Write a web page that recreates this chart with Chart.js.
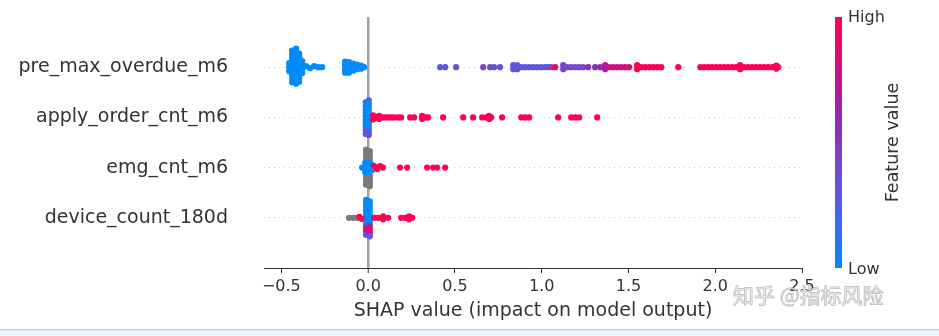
<!DOCTYPE html>
<html>
<head>
<meta charset="utf-8">
<script src="https://cdn.jsdelivr.net/npm/chart.js@4.4.1/dist/chart.umd.min.js"></script>
<style>
  html, body { margin: 0; padding: 0; background: #fff; }
  canvas { display: block; }
</style>
</head>
<body>
<canvas id="shap" width="939" height="336"></canvas>
<script>
// rows bottom -> top
const features = ['device_count_180d', 'emg_cnt_m6', 'apply_order_cnt_m6', 'pre_max_overdue_m6'];
const xTicks = [-0.5, 0, 0.5, 1, 1.5, 2, 2.5];

// each point: [shap value, swarm offset inside the row, feature value 0..1 (null = missing)]
const preMaxOverdue = [
  [-0.455, 0.08, 0], [-0.455, 0.00, 0], [-0.455, -0.08, 0],
  [-0.438, 0.33, 0], [-0.438, 0.26, 0], [-0.438, 0.19, 0], [-0.438, 0.12, 0], [-0.438, 0.05, 0],
  [-0.438, -0.02, 0], [-0.438, -0.09, 0], [-0.438, -0.16, 0], [-0.438, -0.23, 0], [-0.438, -0.30, 0],
  [-0.415, 0.37, 0], [-0.415, 0.30, 0], [-0.415, 0.23, 0], [-0.415, 0.16, 0], [-0.415, 0.09, 0], [-0.415, 0.02, 0],
  [-0.415, -0.05, 0], [-0.415, -0.12, 0], [-0.415, -0.19, 0], [-0.415, -0.26, 0], [-0.415, -0.33, 0],
  [-0.397, 0.27, 0], [-0.397, 0.20, 0], [-0.397, 0.13, 0], [-0.397, 0.06, 0], [-0.397, -0.01, 0],
  [-0.397, -0.08, 0], [-0.397, -0.15, 0], [-0.397, -0.22, 0], [-0.397, -0.29, 0],
  [-0.380, 0.12, 0], [-0.380, 0.04, 0], [-0.380, -0.04, 0], [-0.380, -0.12, 0],
  [-0.357, 0.02, 0], [-0.334, -0.02, 0], [-0.311, 0.02, 0], [-0.288, 0, 0], [-0.265, 0, 0],
  [-0.133, 0.11, 0], [-0.133, 0.04, 0], [-0.133, -0.04, 0], [-0.133, -0.11, 0],
  [-0.110, 0.10, 0], [-0.110, 0.03, 0], [-0.110, -0.04, 0], [-0.110, -0.11, 0],
  [-0.086, 0.07, 0], [-0.086, 0, 0], [-0.086, -0.07, 0],
  [-0.063, 0.05, 0], [-0.063, -0.04, 0], [-0.040, 0.03, 0], [-0.040, -0.03, 0], [-0.023, 0, 0],
  [0.415, 0, 0.3], [0.444, 0, 0.3], [0.507, 0, 0.3],
  [0.663, 0, 0.45], [0.703, 0, 0.4], [0.726, 0, 0.35], [0.760, 0, 0.3],
  [0.836, 0.04, 0.3], [0.836, -0.04, 0.3], [0.859, 0.04, 0.3], [0.859, -0.04, 0.3], [0.882, 0, 0.3],
  [0.905, 0, 0.28], [0.928, 0, 0.3], [0.951, 0, 0.32], [0.974, 0, 0.3], [0.997, 0, 0.28], [1.020, 0, 0.3], [1.037, 0, 0.3],
  [1.055, 0, 0.45], [1.078, 0, 1],
  [1.124, 0.04, 0.4], [1.124, -0.04, 0.42], [1.147, 0, 0.4], [1.170, 0, 0.42], [1.193, 0, 0.4], [1.216, 0, 0.42], [1.239, 0, 0.4],
  [1.268, 0, 0.55], [1.308, 0, 0.55], [1.337, 0, 0.6],
  [1.366, 0.04, 0.72], [1.366, -0.04, 0.7], [1.389, 0, 0.75], [1.412, 0, 0.78], [1.435, 0, 0.8],
  [1.458, 0, 0.8], [1.481, 0, 0.82], [1.504, 0, 0.85],
  [1.550, 0.04, 1], [1.550, -0.04, 1], [1.573, 0, 1], [1.597, 0, 1], [1.620, 0, 1], [1.643, 0, 1], [1.666, 0, 1], [1.689, 0, 1],
  [1.787, 0, 1],
  [1.914, 0, 1], [1.937, 0, 1], [1.960, 0, 1], [1.983, 0, 1], [2.006, 0, 1], [2.029, 0, 1], [2.052, 0, 1],
  [2.075, 0, 1], [2.098, 0, 1], [2.121, 0, 1], [2.144, 0.04, 1], [2.144, -0.04, 1], [2.167, 0, 1], [2.190, 0, 1],
  [2.213, 0, 1], [2.236, 0, 1], [2.259, 0, 1], [2.282, 0, 1], [2.305, 0, 1], [2.329, 0, 1],
  [2.352, 0.03, 1], [2.352, -0.03, 1], [2.363, 0, 1]
];

const applyOrderCnt = [
  [0.004, 0.34, 0.2], [0.004, 0.27, 0], [0.004, 0.20, 0], [0.004, 0.13, 0], [0.004, 0.06, 0], [0.004, -0.01, 0],
  [0.004, -0.08, 0], [0.004, -0.15, 0], [0.004, -0.22, 0], [0.004, -0.29, 0.3], [0.004, -0.35, 0.35],
  [-0.014, 0.30, 0.15], [-0.014, 0.23, 0], [-0.014, 0.16, 0], [-0.014, 0.09, 0], [-0.014, 0.02, 0],
  [-0.014, -0.05, 0], [-0.014, -0.12, 0], [-0.014, -0.19, 0], [-0.014, -0.26, 0.25], [-0.014, -0.33, 0.35],
  [0.029, 0.04, 1], [0.029, -0.04, 1], [0.046, 0, 1], [0.063, 0.03, 1], [0.063, -0.03, 1], [0.081, 0, 1],
  [0.098, 0, 1], [0.115, 0, 1], [0.133, 0, 1], [0.150, 0, 1], [0.173, 0, 1], [0.190, 0, 1],
  [0.242, 0, 1], [0.265, 0, 1], [0.311, 0.03, 1], [0.311, -0.03, 1], [0.334, 0, 1], [0.346, 0, 1],
  [0.432, 0, 1], [0.548, 0, 1], [0.605, 0, 1], [0.657, 0, 1], [0.680, 0, 1], [0.697, 0.03, 1], [0.697, -0.03, 1],
  [0.709, 0, 1], [0.772, 0, 1], [0.882, 0, 1], [0.905, 0, 1], [0.928, 0, 1], [1.095, 0, 1],
  [1.170, 0, 1], [1.193, 0, 1], [1.216, 0, 1], [1.320, 0, 1]
];

const emgCnt = [
  [-0.012, 0.36, null], [-0.012, 0.29, null], [-0.012, 0.22, null], [-0.012, 0.15, null], [-0.012, 0.08, null],
  [-0.012, 0.01, null], [-0.012, -0.06, null], [-0.012, -0.13, null], [-0.012, -0.20, null], [-0.012, -0.27, null], [-0.012, -0.34, null],
  [0.010, 0.33, null], [0.010, 0.26, null], [0.010, 0.19, null], [0.010, 0.12, null], [0.010, 0.05, null],
  [0.010, -0.02, null], [0.010, -0.09, null], [0.010, -0.16, null], [0.010, -0.23, null], [0.010, -0.30, null], [0.010, -0.37, null],
  [-0.035, 0, 0], [-0.017, 0.09, 0], [-0.017, 0, 0], [-0.017, -0.09, 0], [0.006, 0.09, 0], [0.006, 0, 0],
  [0.006, -0.09, 0], [0.023, 0.05, 0], [0.023, -0.05, 0],
  [0.035, 0.03, 1], [0.052, -0.03, 1], [0.069, 0.03, 1], [0.086, 0, 1], [0.184, 0, 1], [0.225, 0, 1],
  [0.340, 0, 1], [0.375, 0, 1], [0.398, 0, 1], [0.444, 0, 1]
];

const deviceCount = [
  [-0.110, 0, null], [-0.086, 0, null], [-0.063, 0, null],
  [-0.012, 0.36, 0], [-0.012, 0.29, 0], [-0.012, 0.22, 0], [-0.012, 0.15, 0], [-0.012, 0.08, 0], [-0.012, 0.01, 0],
  [-0.012, -0.06, 0], [-0.012, -0.13, 0.1], [-0.012, -0.20, 0.9], [-0.012, -0.27, 0.7], [-0.012, -0.34, 0.4],
  [0.010, 0.33, 0], [0.010, 0.26, 0], [0.010, 0.19, 0], [0.010, 0.12, 0], [0.010, 0.05, 0], [0.010, -0.02, 0],
  [0.010, -0.09, 0], [0.010, -0.16, 0.6], [0.010, -0.23, 1], [0.010, -0.30, 0.8], [0.010, -0.37, 0.3],
  [-0.050, 0.02, 1], [-0.038, -0.02, 1], [0.035, 0, 1], [0.058, 0, 1], [0.086, 0.03, 1], [0.086, -0.03, 1],
  [0.115, 0, 1], [0.190, 0, 1], [0.213, 0, 1], [0.236, 0.03, 1], [0.236, -0.03, 1], [0.254, 0, 1]
];

const rows = [deviceCount, emgCnt, applyOrderCnt, preMaxOverdue];

// blue -> purple -> red, like shap's red_blue map
const cmap = [
  [0, [0, 139, 251]], [0.2, [70, 102, 232]], [0.4, [118, 72, 206]], [0.55, [138, 48, 188]],
  [0.7, [178, 24, 158]], [0.85, [222, 10, 118]], [1, [255, 0, 82]]
];

function featureColor(v) {
  if (v === null) return '#7a7a7a';
  for (let i = 1; i < cmap.length; i++) {
    if (v <= cmap[i][0]) {
      const [t0, c0] = cmap[i - 1], [t1, c1] = cmap[i];
      const f = (v - t0) / (t1 - t0);
      const c = c0.map((a, k) => Math.round(a + (c1[k] - a) * f));
      return `rgb(${c[0]},${c[1]},${c[2]})`;
    }
  }
  return 'rgb(255,0,82)';
}

const FONT = 'DejaVu Sans';

const extras = {
  id: 'extras',
  afterDraw(chart) {
    const ctx = chart.ctx;
    const { top, bottom, right } = chart.chartArea;
    ctx.save();

    // colour bar
    const g = ctx.createLinearGradient(0, bottom, 0, top);
    cmap.forEach(([t, c]) => g.addColorStop(t, `rgb(${c[0]},${c[1]},${c[2]})`));
    ctx.fillStyle = g;
    ctx.fillRect(right + 33, top, 7, bottom - top);

    ctx.fillStyle = '#333';
    ctx.font = `16px "${FONT}"`;
    ctx.textAlign = 'left';
    ctx.textBaseline = 'middle';
    ctx.fillText('High', right + 46, top + 1);
    ctx.fillText('Low', right + 46, bottom + 2);

    ctx.save();
    ctx.translate(right + 91, (top + bottom) / 2);
    ctx.rotate(-Math.PI / 2);
    ctx.textAlign = 'center';
    ctx.font = `17.5px "${FONT}"`;
    ctx.fillText('Feature value', 0, 0);
    ctx.restore();

    // watermark
    ctx.font = '21px "Noto Sans CJK SC"';
    ctx.textAlign = 'left';
    ctx.lineWidth = 1;
    ctx.strokeStyle = 'rgba(140,140,140,0.5)';
    ctx.fillStyle = 'rgba(255,255,255,0.9)';
    ctx.fillText('知乎 @指标风险', 733, 295);
    ctx.strokeText('知乎 @指标风险', 733, 295);

    // page strip at the bottom
    ctx.fillStyle = '#edf6fa';
    ctx.fillRect(0, 329, chart.width, 7);
    ctx.fillStyle = '#b9d7e6';
    ctx.fillRect(0, 329, chart.width, 1.5);
    ctx.restore();
  }
};

new Chart(document.getElementById('shap'), {
  type: 'scatter',
  data: {
    datasets: rows.map((pts, row) => ({
      label: features[row],
      data: pts.map(p => ({ x: p[0], y: row + p[1] })),
      pointBackgroundColor: pts.map(p => featureColor(p[2])),
      pointRadius: 3.1,
      pointHoverRadius: 3.1,
      pointBorderWidth: 0
    }))
  },
  options: {
    responsive: false,
    animation: false,
    events: [],
    layout: { padding: { left: 0, right: 137, top: 17, bottom: 8 } },
    plugins: { legend: { display: false }, tooltip: { enabled: false } },
    scales: {
      x: {
        type: 'linear',
        min: -0.6,
        max: 2.5,
        afterBuildTicks: s => { s.ticks = xTicks.map(v => ({ value: v })); },
        afterFit: s => { s.height = 60; },
        ticks: {
          color: '#333',
          font: { family: FONT, size: 16 },
          padding: 4,
          maxRotation: 0,
          autoSkip: false,
          callback: v => (v < 0 ? '\u2212' : '') + Math.abs(v).toFixed(1)
        },
        grid: {
          color: c => (c.tick && c.tick.value === 0 ? '#a0a0a0' : 'rgba(0,0,0,0)'),
          lineWidth: c => (c.tick && c.tick.value === 0 ? 2.5 : 1),
          tickLength: 5,
          tickColor: '#333',
          tickWidth: 1
        },
        border: { display: true, color: '#333', width: 1 },
        title: {
          display: true,
          text: 'SHAP value (impact on model output)',
          color: '#333',
          font: { family: FONT, size: 19 },
          padding: { top: 0, bottom: 6 }
        }
      },
      y: {
        type: 'linear',
        min: -1,
        max: 4,
        afterBuildTicks: s => { s.ticks = [-1, 0, 1, 2, 3, 4].map(v => ({ value: v })); },
        afterFit: s => { s.width = 264; },
        ticks: {
          color: '#333',
          font: { family: FONT, size: 19 },
          padding: 0,
          callback: v => features[v] || ''
        },
        grid: {
          drawTicks: true,
          tickLength: 36,
          tickColor: 'rgba(0,0,0,0)',
          color: c => (c.tick && c.tick.value >= 0 && c.tick.value <= 3 ? '#d0d0d0' : 'rgba(0,0,0,0)'),
          lineWidth: 1
        },
        border: { display: false, dash: [1, 4] }
      }
    }
  },
  plugins: [extras]
});
</script>
</body>
</html>
